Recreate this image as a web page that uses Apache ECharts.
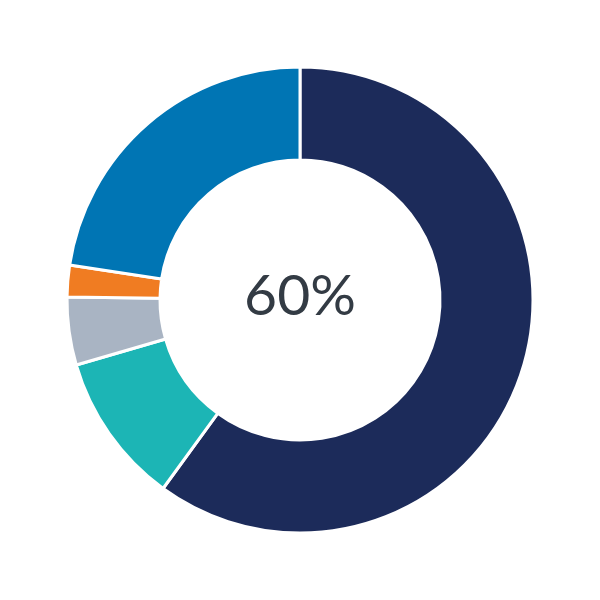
<!DOCTYPE html>
<html><head><meta charset="utf-8">
<script src="https://cdn.jsdelivr.net/npm/echarts@6/dist/echarts.min.js"></script>
<style>html,body{margin:0;padding:0;background:#fff}#c{width:600px;height:600px}</style>
</head><body><div id="c"></div>
<script>
const categories = ['Navy', 'Teal', 'Gray', 'Orange', 'Blue'];
const values = [60.0, 10.5, 4.7, 2.2, 22.6];
const colors = ['#1c2b5a', '#1cb5b5', '#a9b4c3', '#f07c22', '#0075b4'];
const centerLabel = '60%';

const chart = echarts.init(document.getElementById('c'));
chart.setOption({
  animation: false,
  series: [{
    type: 'pie',
    center: [300, 300],
    radius: [140, 233],
    startAngle: 90,
    clockwise: true,
    label: { show: false },
    labelLine: { show: false },
    itemStyle: { borderColor: '#fff', borderWidth: 3 },
    data: categories.map((n, i) => ({ name: n, value: values[i], itemStyle: { color: colors[i] } }))
  }],
  graphic: [{
    type: 'text',
    left: 'center',
    top: 268,
    style: { text: centerLabel, font: '400 57px Lato', fill: '#333b44' }
  }]
});
</script></body></html>
